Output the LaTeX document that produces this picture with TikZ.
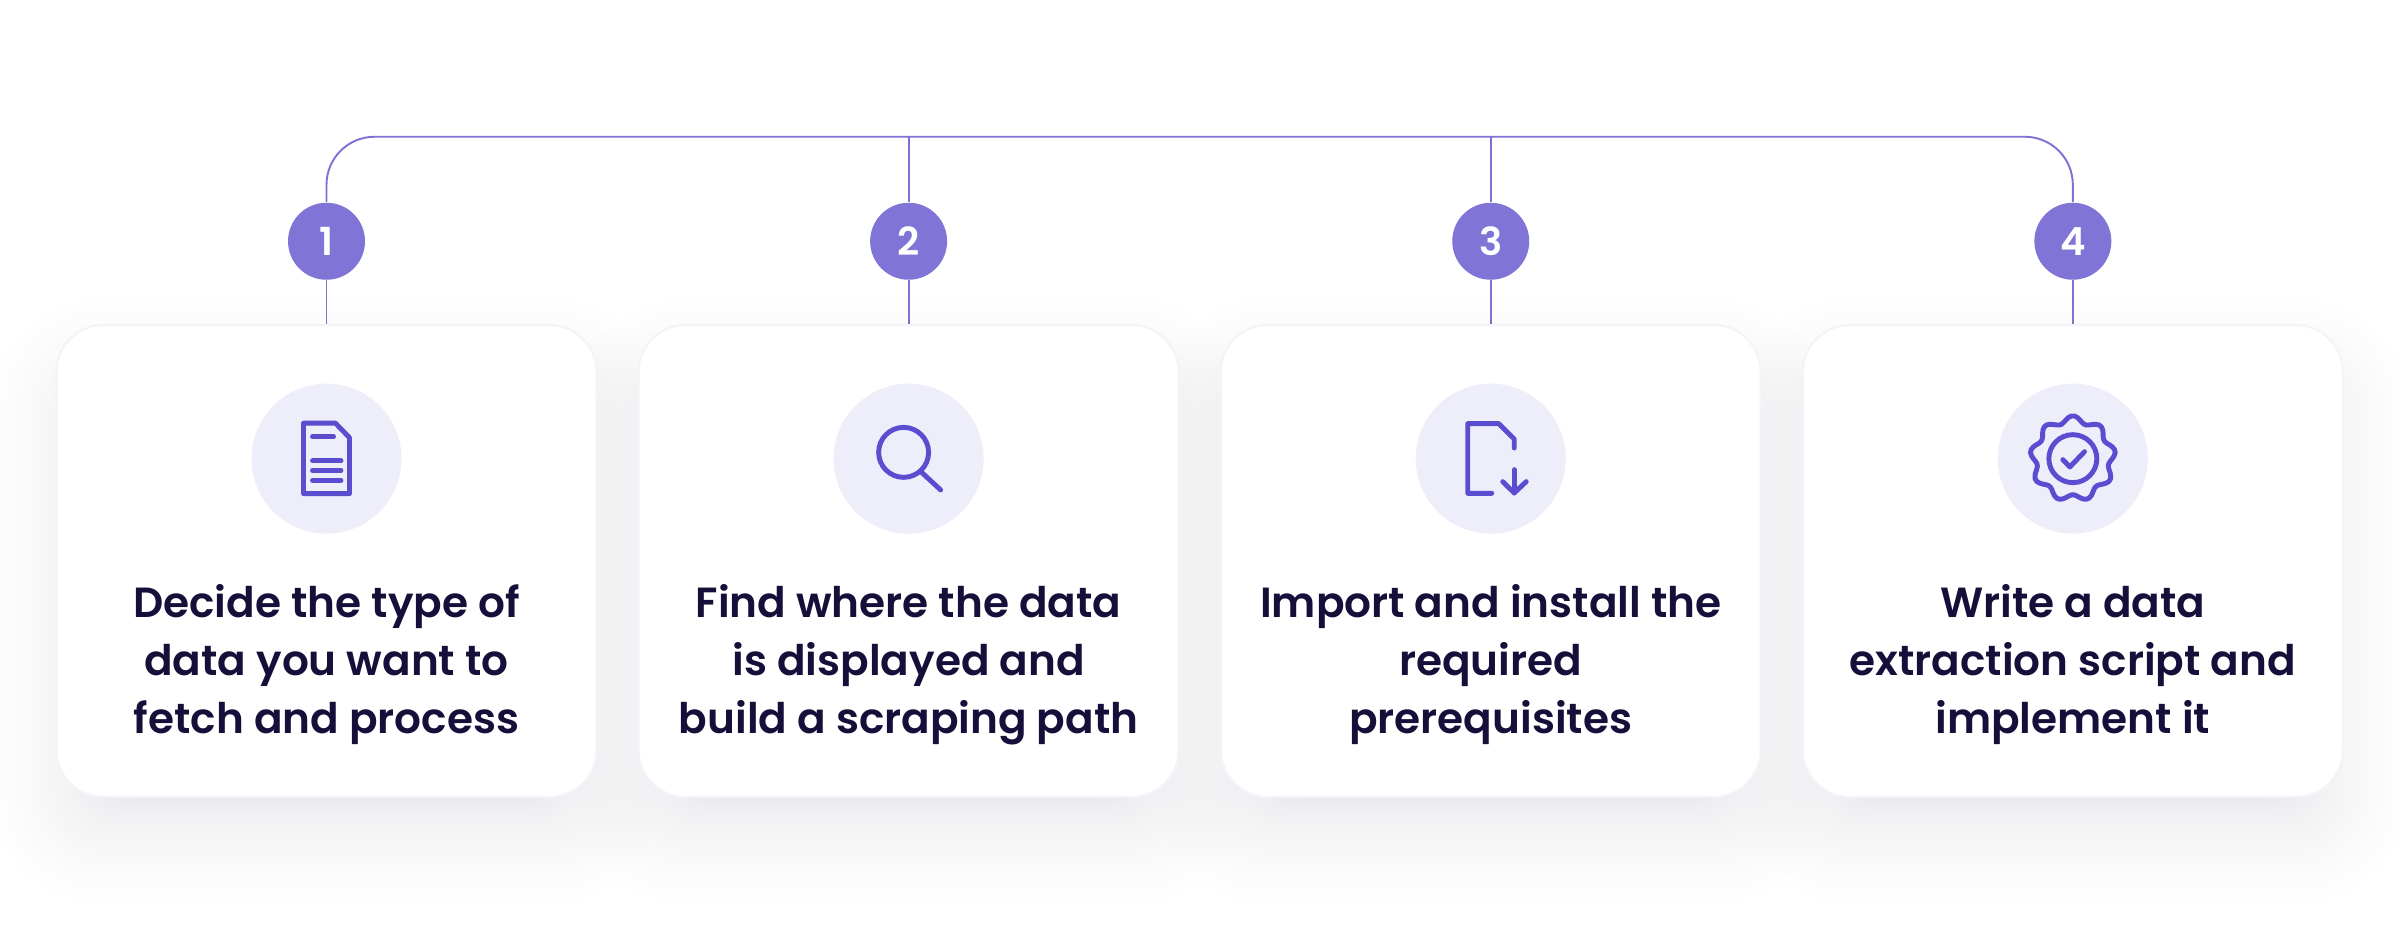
\documentclass[tikz,border=0pt]{standalone}
\usepackage{fontspec}
\setmainfont{Poppins SemiBold}
\usetikzlibrary{backgrounds}
\usetikzlibrary{calc}
\usetikzlibrary{positioning}

\definecolor{lineCol}{HTML}{7D72D6}
\definecolor{numCol}{HTML}{8075D6}
\definecolor{iconCol}{HTML}{5B4DD0}
\definecolor{iconBgCol}{HTML}{EEEDFA}
\definecolor{cardEdge}{HTML}{F4F3FA}
\definecolor{textCol}{HTML}{15103A}

% soft shadow under a card, built from stacked transparent boxes
\newcommand{\softShadow}[1]{
  \foreach \lay in {0,...,23} {
    \pgfmathsetmacro{\grow}{-0.4+1.05*(1-\lay/24)^2}
    \pgfmathsetmacro{\rad}{0.47+max(\grow,0)}
    \fill[black!88!blue, opacity=0.0027, rounded corners=\rad cm]
      ($(#1.south west)+(-\grow,-\grow-0.4)$) rectangle ($(#1.north east)+(\grow,\grow-0.4)$);
  }
}

\begin{document}
\begin{tikzpicture} [
        node distance = 0.4cm,
        card/.style = {
          draw = cardEdge,
          line width = 0.6pt,
          fill = white,
          rounded corners = 0.47cm,
          minimum width = 5.4cm,
          minimum height = 4.72cm,
          inner sep = 0pt,
        },
        numBadge/.style = {
          circle,
          fill = numCol,
          text = white,
          minimum size = 0.77cm,
          inner sep = 0pt,
          font = \fontsize{11}{11}\selectfont,
        },
        iconBg/.style = {
          circle,
          fill = iconBgCol,
          minimum size = 1.5cm,
          inner sep = 0pt,
        },
        caption/.style = {
          align = center,
          text = textCol,
          inner sep = 0pt,
          font = \fontsize{12}{16.5}\selectfont,
        },
        link/.style = {
          draw = lineCol,
          line width = 0.55pt,
        },
        iconLine/.style = {
          draw = iconCol,
          line width = 1.4pt,
          line cap = round,
          line join = round,
        },
        iconBox/.style = {
          x = 0.01cm,
          y = 0.01cm,
        },
      ]
    \useasboundingbox (0,0) rectangle (24,9.34);

    % cards
    \node [card] at (3.265,3.73) (card1) {};
    \node [card, right = of card1] (card2) {};
    \node [card, right = of card2] (card3) {};
    \node [card, right = of card3] (card4) {};

    \begin{scope}[on background layer]
      \softShadow{card1}
      \softShadow{card2}
      \softShadow{card3}
      \softShadow{card4}
    \end{scope}

    % number badges
    \node [numBadge, above = 0.435cm of card1] (num1) {1};
    \node [numBadge, above = 0.435cm of card2] (num2) {2};
    \node [numBadge, above = 0.435cm of card3] (num3) {3};
    \node [numBadge, above = 0.435cm of card4] (num4) {4};

    % icon discs
    \node [iconBg, below = 0.59cm of card1.north] (iconBg1) {};
    \node [iconBg, below = 0.59cm of card2.north] (iconBg2) {};
    \node [iconBg, below = 0.59cm of card3.north] (iconBg3) {};
    \node [iconBg, below = 0.59cm of card4.north] (iconBg4) {};

    % texts
    \node [caption, below = 0.49cm of iconBg1] (text1) {Decide the type of\\data you want to\\fetch and process};
    \node [caption, below = 0.49cm of iconBg2] (text2) {Find where the data\\is displayed and\\build a scraping path};
    \node [caption, below = 0.49cm of iconBg3] (text3) {Import and install the\\required\\prerequisites};
    \node [caption, below = 0.49cm of iconBg4] (text4) {Write a data\\extraction script and\\implement it};

    % connectors
    \coordinate (busMid) at ($(num1)!.5!(num4)+(0,1.045)$);
    \draw[link, rounded corners = 0.48cm] (num1.north) |- (busMid) -| (num4.north);
    \draw[link] (num2.north) -- (num2 |- busMid);
    \draw[link] (num3.north) -- (num3 |- busMid);
    \draw[link] (num1.south) -- (card1.north);
    \draw[link] (num2.south) -- (card2.north);
    \draw[link] (num3.south) -- (card3.north);
    \draw[link] (num4.south) -- (card4.north);

    % document icon
    \begin{scope}[shift={(iconBg1)}, iconBox]
      \draw[iconLine] (-23,35.5) -- (9,35.5) -- (23,21) -- (23,-35) -- (-23,-35) -- cycle;
      \draw[iconLine] (-14,22) -- (7,22);
      \draw[iconLine] (-14,-2.3) -- (14.5,-2.3);
      \draw[iconLine] (-14,-11.7) -- (14.5,-11.7);
      \draw[iconLine] (-14,-21.7) -- (14.5,-21.7);
    \end{scope}

    % magnifier icon
    \begin{scope}[shift={(iconBg2)}, iconBox]
      \draw[iconLine] (-5,6.3) circle (25);
      \draw[iconLine] (13,-13.7) -- (32,-31.3);
    \end{scope}

    % file download icon
    \begin{scope}[shift={(iconBg3)}, iconBox]
      \draw[iconLine] (1,-34.7) -- (-23,-34.7) -- (-23,35) -- (8,35) -- (23.5,19.7) -- (23.5,10.7);
      \draw[iconLine] (23.5,-11) -- (23.5,-34.3);
      \draw[iconLine] (12,-23) -- (23.5,-34.3) -- (35.5,-23);
    \end{scope}

    % badge icon
    \begin{scope}[shift={(iconBg4)}, iconBox]
      \draw[iconLine] plot[smooth cycle, domain=0:356, samples=90, variable=\ang] ({\ang}:{39.5+3.4*cos(9*(\ang-90))});
      \draw[iconLine] (0,0) circle (24);
      \draw[iconLine] (-10,-1) -- (-3,-8.3) -- (11.7,7);
    \end{scope}
  \end{tikzpicture}
\end{document}
